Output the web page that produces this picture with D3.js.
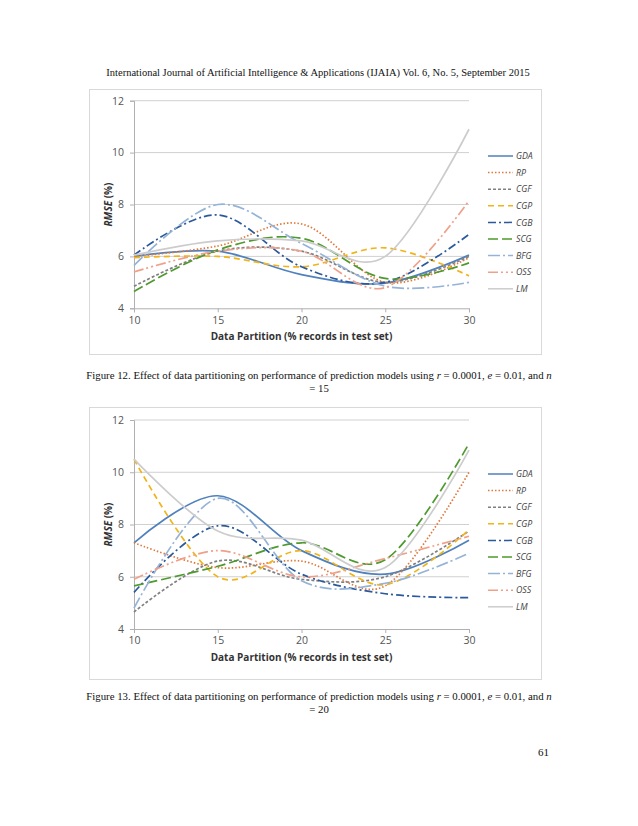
<!DOCTYPE html>
<html>
<head>
<meta charset="utf-8">
<script src="https://cdn.jsdelivr.net/npm/d3@7"></script>
<style>
  body { margin: 0; background: #ffffff; }
  svg { display: block; }
</style>
</head>
<body>
<div id="page"></div>
<script>
// x values (data partition, % records in test set)
var partitions = [10, 15, 20, 25, 30];
var yTicks = [4, 6, 8, 10, 12];
var models = ["GDA", "RP", "CGF", "CGP", "CGB", "SCG", "BFG", "OSS", "LM"];

// Figure 12 (n = 15), one row per model, same order as models
var fig12 = [
  [6.0, 6.2, 5.3, 4.97, 6.05],   // GDA
  [6.0, 6.4, 7.25, 5.0, 5.95],   // RP
  [4.85, 6.2, 6.2, 5.0, 6.0],    // CGF
  [5.95, 6.0, 5.6, 6.33, 5.25],  // CGP
  [6.05, 7.6, 5.6, 5.0, 6.85],   // CGB
  [4.65, 6.25, 6.7, 5.15, 5.75], // SCG
  [5.65, 8.0, 6.5, 4.85, 5.0],   // BFG
  [5.4, 6.2, 6.2, 4.8, 8.15],    // OSS
  [6.05, 6.6, 6.6, 6.0, 10.9]    // LM
];

// Figure 13 (n = 20)
var fig13 = [
  [7.3, 9.1, 7.0, 6.1, 7.4],     // GDA
  [7.3, 6.35, 6.6, 5.65, 10.0],  // RP
  [4.65, 6.6, 5.9, 6.0, 7.75],   // CGF
  [10.5, 6.0, 7.0, 5.7, 7.8],    // CGP
  [5.4, 7.95, 6.1, 5.35, 5.2],   // CGB
  [5.65, 6.4, 7.3, 6.65, 11.1],  // SCG
  [4.8, 9.0, 5.85, 5.75, 6.9],   // BFG
  [5.9, 7.0, 6.0, 6.7, 7.55],    // OSS
  [10.5, 7.75, 7.4, 6.35, 10.85] // LM
];

// line styles per model
var colors = ["#4f81bd", "#e0783a", "#808080", "#f0b418", "#2a5a9c", "#4e9a2e", "#95b3d7", "#f0a088", "#cccccc"];
var dashes = ["none", "1.5,2", "3,2", "6,4", "8,3,2,3", "10,4", "12,3,2,3", "10,3,2,3,2,3", "none"];

var W = 638, H = 826;
var svg = d3.select("#page").append("svg").attr("width", W).attr("height", H);

var serif = "'Liberation Serif', 'Times New Roman', serif";
var sans = "'Open Sans', 'Liberation Sans', sans-serif";

// header
svg.append("text").attr("x", 318).attr("y", 76).attr("text-anchor", "middle")
  .style("font-family", serif).style("font-size", "10.5px").style("fill", "#111")
  .text("International Journal of Artificial Intelligence & Applications (IJAIA) Vol. 6, No. 5, September 2015");

//function for drawing one chart block
draw_chart = function(data, top, frameH, plotTop, plotBottom, caption, capN, capY){
  var g = svg.append("g");
  g.append("rect").attr("x", 89.5).attr("y", top + 0.5)
    .attr("width", 452).attr("height", frameH)
    .style("fill", "#fff").style("stroke", "#d9d9d9").style("stroke-width", 1);

  var x = d3.scaleLinear().domain([10, 30]).range([134, 469]);
  var y = d3.scaleLinear().domain([4, 12]).range([plotBottom, plotTop]);

  // gridlines
  g.selectAll(".grid").data(yTicks.slice(1)).enter().append("line")
    .attr("x1", x(10)).attr("x2", x(30))
    .attr("y1", function(d){ return y(d); }).attr("y2", function(d){ return y(d); })
    .style("stroke", "#d0d0d0").style("stroke-width", 1);

  // axes
  var yAxis = d3.axisLeft(y).tickValues(yTicks).tickSize(4).tickPadding(6);
  var xAxis = d3.axisBottom(x).tickValues(partitions).tickSize(4).tickPadding(4);
  var ya = g.append("g").attr("transform", "translate(" + x(10) + ",0)").call(yAxis);
  var xa = g.append("g").attr("transform", "translate(0," + y(4) + ")").call(xAxis);
  [ya, xa].forEach(function(a){
    a.selectAll("path, line").style("stroke", "#b0b0b0");
    a.selectAll("text").style("font-family", sans).style("font-size", "10.5px")
      .style("fill", "#555");
  });

  // axis titles
  g.append("text").attr("transform", "translate(112," + ((plotTop + plotBottom) / 2) + ") rotate(-90)")
    .attr("text-anchor", "middle")
    .style("font-family", sans).style("font-size", "10px").style("font-weight", "bold")
    .style("fill", "#333")
    .html("<tspan font-style='italic'>RMSE</tspan> (%)");
  g.append("text").attr("x", (x(10) + x(30)) / 2).attr("y", plotBottom + 32)
    .attr("text-anchor", "middle")
    .style("font-family", sans).style("font-size", "10px").style("font-weight", "bold")
    .style("fill", "#333").text("Data Partition (% records in test set)");

  // smoothed lines
  var line = d3.line()
    .x(function(d, i){ return x(partitions[i]); })
    .y(function(d){ return y(d); })
    .curve(d3.curveCardinal.tension(0));
  g.selectAll(".series").data(data).enter().append("path")
    .attr("d", function(d){ return line(d); })
    .style("fill", "none")
    .style("stroke", function(d, i){ return colors[i]; })
    .style("stroke-width", 1.7)
    .style("stroke-dasharray", function(d, i){ return dashes[i]; });

  // legend
  var leg = g.selectAll(".leg").data(models).enter().append("g")
    .attr("transform", function(d, i){ return "translate(488," + (top + 67 + i * 16.6) + ")"; });
  leg.append("line").attr("x1", 0).attr("x2", 25).attr("y1", 0).attr("y2", 0)
    .style("stroke", function(d, i){ return colors[i]; })
    .style("stroke-width", 1.5)
    .style("stroke-dasharray", function(d, i){ return dashes[i]; });
  leg.append("text").attr("x", 28).attr("y", 3.2)
    .style("font-family", sans).style("font-size", "8.8px").style("font-style", "italic")
    .style("fill", "#444").text(function(d){ return d; });

  // caption
  var cap = svg.append("text").attr("x", 319).attr("y", capY).attr("text-anchor", "middle")
    .style("font-family", serif).style("font-size", "10.8px").style("fill", "#111");
  cap.append("tspan").text("Figure " + caption + ". Effect of data partitioning on performance of prediction models using ");
  cap.append("tspan").style("font-style", "italic").text("r");
  cap.append("tspan").text(" = 0.0001, ");
  cap.append("tspan").style("font-style", "italic").text("e");
  cap.append("tspan").text(" = 0.01, and ");
  cap.append("tspan").style("font-style", "italic").text("n");
  svg.append("text").attr("x", 319).attr("y", capY + 12.5).attr("text-anchor", "middle")
    .style("font-family", serif).style("font-size", "10.8px").style("fill", "#111")
    .text("= " + capN);
}

draw_chart(fig12, 89, 265, 100.7, 308.3, "12", "15", 379);
draw_chart(fig13, 407, 272, 420, 629, "13", "20", 700);

// page number
svg.append("text").attr("x", 549).attr("y", 756).attr("text-anchor", "end")
  .style("font-family", serif).style("font-size", "11px").style("fill", "#111").text("61");
</script>
</body>
</html>
